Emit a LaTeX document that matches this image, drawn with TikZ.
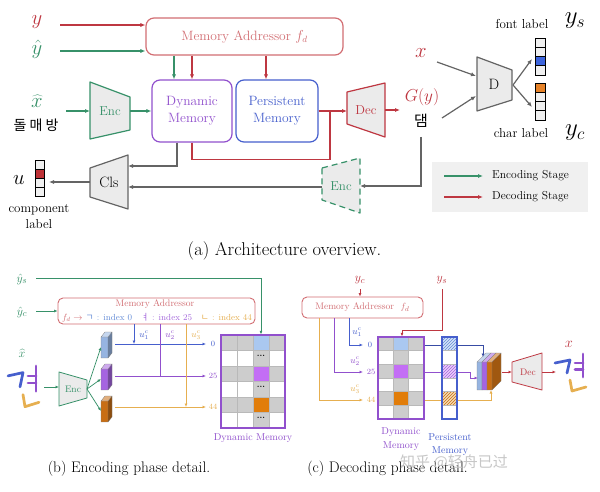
\documentclass[tikz,border=0pt]{standalone}
\usepackage{fontspec}
\newfontfamily\krfont{Noto Sans CJK KR}
\newfontfamily\scfont{Noto Sans CJK SC}
\usetikzlibrary{arrows.meta,patterns}
\definecolor{cgreen}{RGB}{55,145,105}
\definecolor{cred}{RGB}{190,55,65}
\definecolor{cpink}{RGB}{210,110,115}
\definecolor{cpurple}{RGB}{145,80,205}
\definecolor{cblue}{RGB}{70,95,205}
\definecolor{cgray}{RGB}{100,100,100}
\definecolor{cfill}{RGB}{235,235,235}
\definecolor{clblue}{RGB}{170,200,240}
\definecolor{cviolet}{RGB}{195,110,245}
\definecolor{corange}{RGB}{225,125,10}
\definecolor{cgold}{RGB}{230,175,80}
\definecolor{cgrid}{RGB}{205,205,205}
\definecolor{clb}{RGB}{100,140,215}
\definecolor{clp}{RGB}{165,105,220}
\definecolor{cbarblue}{RGB}{60,100,220}
\definecolor{cbarorange}{RGB}{230,130,40}
\definecolor{cbarred}{RGB}{190,50,55}
\definecolor{cubeblue}{RGB}{150,180,225}
\definecolor{cubepurple}{RGB}{165,100,225}
\definecolor{cubeorange}{RGB}{200,110,20}
\newcommand{\fsz}[1]{\fontsize{#1}{#1}\selectfont}
\newcommand{\featcube}[3]{%
 \fill[#3] (#1,#2) rectangle ({#1+7},{#2+21});
 \fill[#3!70!black] ({#1+7},#2) -- ({#1+11},{#2-5}) -- ({#1+11},{#2+16}) -- ({#1+7},{#2+21}) -- cycle;
 \fill[#3!55!white] (#1,#2) -- ({#1+4},{#2-5}) -- ({#1+11},{#2-5}) -- ({#1+7},#2) -- cycle;
 \draw[black!50,line width=0.3pt] (#1,#2) rectangle ({#1+7},{#2+21}) ({#1+7},#2) -- ({#1+11},{#2-5}) -- ({#1+11},{#2+16}) -- ({#1+7},{#2+21}) (#1,#2) -- ({#1+4},{#2-5}) -- ({#1+11},{#2-5});}
\newcommand{\featslab}[2]{%
 \fill[#2] (#1,362) rectangle ({#1+5},390);
 \fill[#2!55!white] (#1,362) -- ({#1+9},353) -- ({#1+14},353) -- ({#1+5},362) -- cycle;
 \fill[#2!80!black] ({#1+5},362) -- ({#1+14},353) -- ({#1+14},381) -- ({#1+5},390) -- cycle;
 \draw[black!50,line width=0.3pt] (#1,362) rectangle ({#1+5},390) (#1,362) -- ({#1+9},353) -- ({#1+14},353) -- ({#1+5},362) ({#1+14},353) -- ({#1+14},381) -- ({#1+5},390);}
\newcommand{\gyeon}[3]{%
 \begin{scope}[shift={(#1,#2)},yscale=#3,line width=2.7pt,line cap=round,line join=round]
 \draw[cblue] (0,9) -- (15,6) -- (12,19);
 \draw[cpurple] (28,0) -- (28,23) (20,9) -- (28,9) (20,15.5) -- (28,15.5);
 \draw[cgold] (15,26) -- (17,37) -- (31,33);
 \end{scope}}
\begin{document}
\begin{tikzpicture}[x=1pt,y=-1pt,
  arr/.style={-{Latex[length=5pt,width=4.2pt]}},
  sarr/.style={-{Latex[length=3.5pt,width=3pt]}},
  thickl/.style={line width=1.2pt},
  thinl/.style={line width=0.75pt},
  trap/.style={fill=cfill,line width=1.2pt,line join=round},
  mbox/.style={rounded corners=8pt,line width=1.2pt,align=center,inner sep=0pt},
  lbl/.style={inner sep=0pt},
  gl/.style={draw=gray!55,line width=0.4pt}]
\fill[white] (0,0) rectangle (600,492);
\useasboundingbox (0,0) rectangle (600,492);
% ================= (a) =================
\node[lbl,text=cred,font=\fsz{22}] (ya) at (37,22) {$y$};
\node[lbl,text=cgreen,font=\fsz{21}] (yha) at (37,49) {$\hat{y}$};
\node[mbox,draw=cpink,text=cpink,font=\fsz{13.5},minimum width=197pt,minimum height=37pt] (addrA) at (244.5,36.5) {Memory Addressor $f_d$};
\coordinate (yaS) at (60,25);
\coordinate (yhaS) at (60,51);
\draw[thickl,arr,cred] (yaS) -- (addrA.west |- yaS);
\draw[thickl,arr,cgreen] (yhaS) -- (addrA.west |- yhaS);
\node[mbox,draw=cpurple,text=cpurple,font=\fontsize{13.5}{17}\selectfont,minimum width=80pt,minimum height=62pt] (dynA) at (192,111) {Dynamic\\Memory};
\node[mbox,draw=cblue,text=cblue,font=\fontsize{13.5}{17}\selectfont,minimum width=82pt,minimum height=62pt] (perA) at (277,111) {Persistent\\Memory};
\coordinate (gx) at (174,0);
\coordinate (rx1) at (192,0);
\coordinate (rx2) at (266,0);
\coordinate (gy1) at (177,0);
\draw[thickl,arr,cgreen] (addrA.south -| gx) -- (dynA.north -| gx);
\draw[thickl,arr,cred] (addrA.south -| rx1) -- (dynA.north -| rx1);
\draw[thickl,arr,cred] (addrA.south -| rx2) -- (perA.north -| rx2);
% Enc
\draw[trap,draw=cgreen] (90,82) -- (130,97) -- (130,130) -- (90,139) -- cycle;
\node[lbl,text=cgreen,font=\fsz{13}] (encA) at (110,111) {Enc};
\coordinate (encAw) at (90,111);
\coordinate (encAe) at (130,111);
\node[lbl,text=cgreen,font=\fsz{21}] (xhA) at (37,101) {$\widehat{x}$};
\node[lbl,font=\krfont\fsz{14}] (dmb) at (36,125) {돌 매 방};
\coordinate (xhAs) at (66,111);
\draw[thickl,arr,cgreen] (xhAs) -- (encAw);
\draw[thickl,arr,cgreen] (encAe) -- (dynA.west |- encAe);
% Dec
\draw[trap,draw=cred] (347,92) -- (385,83) -- (385,137) -- (347,124) -- cycle;
\node[lbl,text=cred,font=\fsz{13}] (decA) at (366,110) {Dec};
\coordinate (decAw) at (347,111);
\coordinate (decAe) at (385,110);
\coordinate (rj) at (330,111);
\draw[thickl,arr,cred] (perA.east) -- (decAw);
\draw[thickl,cred] (dynA.south -| rx1) -- ++(0,17) -| (rj);
% Cls
\draw[trap,draw=cgray] (90,168) -- (128,155) -- (128,209) -- (90,197) -- cycle;
\node[lbl,font=\fsz{15}] (clsA) at (109,182) {Cls};
\coordinate (clsAe1) at (128,166);
\coordinate (clsAe2) at (128,187);
\coordinate (clsAw) at (90,182);
\draw[thickl,arr,cgray] (dynA.south -| gy1) |- (clsAe1);
% u bar
\foreach \k in {0,...,3} \draw[fill=black!6,line width=0.6pt] (35,{160+9*\k}) rectangle (44,{169+9*\k});
\draw[fill=cbarred,line width=0.6pt] (35,169) rectangle (44,178);
\coordinate (uarr) at (49,182);
\draw[thickl,arr,cgray] (clsAw) -- (uarr);
\node[lbl,font=\fsz{22}] (uA) at (19,180) {$u$};
\node[lbl,font=\fsz{13}] (compl) at (39,210) {component};
\node[lbl,font=\fsz{13}] (compl2) at (39,224) {label};
% Enc dashed
\draw[trap,draw=cgreen,dash pattern=on 6pt off 4pt] (322,168) -- (360,158) -- (360,213) -- (322,200) -- cycle;
\node[lbl,text=cgreen,font=\fsz{13}] (encD) at (341,186) {Enc};
\coordinate (encDe) at (360,186);
\coordinate (encDw) at (322,187);
\draw[thickl,arr,cgray] (encDw) -- (clsAe2);
% G(y)
\node[lbl,text=cred,font=\fsz{19}] (gyA) at (422,97) {$G(y)$};
\node[lbl,font=\krfont\fsz{15}] (dam) at (421,121) {댐};
\coordinate (gyW) at (400,110);
\draw[thickl,arr,cred] (decAe) -- (gyW);
\coordinate (damS) at (421,137);
\draw[thickl,arr,cgray] (damS) |- (encDe);
% D
\node[lbl,text=cred,font=\fsz{22}] (xA) at (421,53) {$x$};
\draw[trap,draw=cgray] (477,57) -- (512,70) -- (512,100) -- (477,111) -- cycle;
\node[lbl,font=\fsz{15}] (dA) at (494,84) {D};
\coordinate (xAr) at (437,62);
\coordinate (dIn1) at (476,76);
\coordinate (damR) at (442,118);
\coordinate (dIn2) at (476,96);
\coordinate (dOut) at (513,85);
\coordinate (fontIn) at (532,59);
\coordinate (charIn) at (532,107);
\draw[thickl,arr,cgray] (xAr) -- (dIn1);
\draw[thickl,arr,cgray] (damR) -- (dIn2);
\draw[thickl,arr,cgray] (dOut) -- (fontIn);
\draw[thickl,arr,cgray] (dOut) -- (charIn);
\foreach \k in {0,...,3} \draw[fill=black!6,line width=0.6pt] (535,{38+9.25*\k}) rectangle (545,{47.25+9.25*\k});
\draw[fill=cbarblue,line width=0.6pt] (535,56.5) rectangle (545,65.75);
\foreach \k in {0,...,3} \draw[fill=black!6,line width=0.6pt] (535,{83+9.25*\k}) rectangle (545,{92.25+9.25*\k});
\draw[fill=cbarorange,line width=0.6pt] (535,83) rectangle (545,92.25);
\node[lbl,font=\fsz{13}] (fontl) at (522,24) {font label};
\node[lbl,font=\fsz{23}] (ysA) at (575,21) {$y_s$};
\node[lbl,font=\fsz{13}] (charl) at (521,133) {char label};
\node[lbl,font=\fsz{23}] (ycA) at (575,133) {$y_c$};
% legend
\fill[black!6] (432,162) rectangle (588,212);
\coordinate (lg1) at (444,176);
\coordinate (lg2) at (483,176);
\coordinate (lr1) at (444,197);
\coordinate (lr2) at (483,197);
\draw[thickl,arr,cgreen] (lg1) -- (lg2);
\draw[thickl,arr,cred] (lr1) -- (lr2);
\node[lbl,anchor=west,font=\fsz{11.5}] (lgt) at (492,176) {Encoding Stage};
\node[lbl,anchor=west,font=\fsz{11.5}] (lrt) at (492,197) {Decoding Stage};
\node[lbl,font=\fsz{18.5}] (capA) at (284.5,251) {(a) Architecture overview.};
% ================= (b) =================
\node[lbl,text=cgreen,font=\fsz{13}] (ysB) at (22,279) {$\hat{y}_s$};
\node[lbl,text=cgreen,font=\fsz{13}] (ycB) at (22,312) {$\hat{y}_c$};
\node[draw=cpink,rounded corners=5pt,line width=0.9pt,minimum width=197pt,minimum height=26pt,inner sep=0pt] (addrB) at (156.5,311) {};
\node[lbl,text=cpink,font=\fsz{9.5}] (addrBt) at (155,304.5) {Memory Addressor};
\node[lbl,font=\fsz{8.8}] (addrBl) at (157,318) {\textcolor{cpink}{$f_d\rightarrow$} \textcolor{clb}{{\krfont ㄱ} : index 0}\quad\textcolor{clp}{{\krfont ㅕ} : index 25}\quad\textcolor{cgold}{{\krfont ㄴ} : index 44}};
% grid B
\fill[white] (221,335) rectangle (285,428);
\foreach \r in {0,2,4} \fill[cgrid] (221,{335+15.5*\r}) rectangle (285,{350.5+15.5*\r});
\fill[cgrid] (253,335) rectangle (269,428);
\fill[clblue] (253,335) rectangle (269,350.5);
\fill[cviolet] (253,366) rectangle (269,381.5);
\fill[corange] (253,397) rectangle (269,412.5);
\foreach \i in {1,2,3} \draw[gl] ({221+16*\i},335) -- ({221+16*\i},428);
\foreach \j in {1,...,5} \draw[gl] (221,{335+15.5*\j}) -- (285,{335+15.5*\j});
\foreach \r in {1,3,5} \node[lbl,font=\bfseries\fsz{8}] (dotB\r) at (261,{340+15.5*\r}) {...};
\node[draw=cpurple,line width=1.3pt,minimum width=64pt,minimum height=93pt,inner sep=0pt] (gridB) at (253,381.5) {};
\node[lbl,text=cpurple,font=\fsz{10}] (gridBl) at (253,438) {Dynamic Memory};
\coordinate (ysBs) at (36,278);
\coordinate (ysBx) at (261,278);
\draw[thinl,sarr,cgreen] (ysBs) -- (ysBx) -- (gridB.north -| ysBx);
\coordinate (ycBs) at (36,311);
\draw[thinl,sarr,cgreen] (ycBs) -- (addrB.west |- ycBs);
% enc B
\node[lbl,text=cgreen,font=\fsz{13}] (xhB) at (22,353) {$\widehat{x}$};
\gyeon{8}{366}{1.1}
\draw[trap,draw=cgreen,line width=0.8pt] (59,372) -- (87,380) -- (87,398) -- (59,406) -- cycle;
\node[lbl,text=cgreen,font=\fsz{9.5}] (encB) at (73,389) {Enc};
\coordinate (encBin) at (44,387);
\coordinate (encBw) at (59,387);
\coordinate (encBe) at (87,389);
\draw[thinl,sarr,cgreen] (encBin) -- (encBw);
\featcube{101}{337}{cubeblue}
\featcube{101}{369}{cubepurple}
\featcube{101}{401}{cubeorange}
\coordinate (cb1) at (101,347);
\coordinate (cb2) at (101,379);
\coordinate (cb3) at (101,411);
\draw[thinl,sarr,cgreen] (encBe) -- (cb1);
\draw[thinl,sarr,cgreen] (encBe) -- (cb2);
\draw[thinl,sarr,cgreen] (encBe) -- (cb3);
% routing B
\coordinate (hb1) at (115,344); \coordinate (he1) at (206,344);
\coordinate (hb2) at (115,376); \coordinate (he2) at (206,376);
\coordinate (hb3) at (115,407); \coordinate (he3) at (206,407);
\draw[thinl,sarr,cblue] (hb1) -- (he1);
\draw[thinl,sarr,cpurple] (hb2) -- (he2);
\draw[thinl,sarr,cgold] (hb3) -- (he3);
\coordinate (vb1) at (134,344);
\coordinate (vb2) at (160,376);
\coordinate (vb3) at (186,407);
\draw[thinl,sarr,cblue] (addrB.south -| vb1) -- (vb1);
\draw[thinl,cpurple] (addrB.south -| vb2) -- (vb2);
\draw[thinl,sarr,cgold] (addrB.south -| vb3) -- (vb3);
\node[lbl,text=cblue,font=\fsz{9}] (u1B) at (144,335) {$u_1^c$};
\node[lbl,text=cpurple,font=\fsz{9}] (u2B) at (170,335) {$u_2^c$};
\node[lbl,text=cgold,font=\fsz{9}] (u3B) at (196,335) {$u_3^c$};
\node[lbl,text=cblue,font=\fsz{8}] (n0B) at (213,344) {0};
\node[lbl,text=cpurple,font=\fsz{8}] (n25B) at (213,376) {25};
\node[lbl,text=cgold,font=\fsz{8}] (n44B) at (213,407) {44};
\node[lbl,font=\fsz{15.3}] (capB) at (129,469) {(b) Encoding phase detail.};
% ================= (c) =================
\node[lbl,text=cred,font=\fsz{13}] (ycC) at (360,280) {$y_c$};
\node[lbl,text=cred,font=\fsz{13}] (ysC) at (442,280) {$y_s$};
\node[draw=cpink,rounded corners=5pt,line width=0.9pt,minimum width=121pt,minimum height=21pt,inner sep=0pt,text=cpink,font=\fsz{9.5}] (addrC) at (362.5,307.5) {Memory Addressor \ $f_d$};
\coordinate (ycCs) at (360,289);
\draw[thinl,sarr,cred] (ycCs) -- (addrC.north -| ycCs);
% grid C
\fill[white] (378,337) rectangle (424,419);
\foreach \r in {0,2,4} \fill[cgrid] (378,{337+13.667*\r}) rectangle (424,{350.667+13.667*\r});
\fill[cgrid] (393.33,337) rectangle (408.67,419);
\fill[clblue] (393.33,337) rectangle (408.67,350.67);
\fill[cviolet] (393.33,364.33) rectangle (408.67,378);
\fill[corange] (393.33,391.67) rectangle (408.67,405.33);
\foreach \i in {1,2} \draw[gl] ({378+15.333*\i},337) -- ({378+15.333*\i},419);
\foreach \j in {1,...,5} \draw[gl] (378,{337+13.667*\j}) -- (424,{337+13.667*\j});
\node[draw=cpurple,line width=1.3pt,minimum width=46pt,minimum height=82pt,inner sep=0pt] (gridC) at (401,378) {};
\node[lbl,text=cpurple,font=\fsz{10}] (gridCl1) at (401,432) {Dynamic};
\node[lbl,text=cpurple,font=\fsz{10}] (gridCl2) at (401,446) {Memory};
% persistent C
\fill[white] (442,337) rectangle (457,419);
\fill[clblue!50] (442,337) rectangle (457,350.67);
\fill[pattern=north east lines,pattern color=clb] (442,337) rectangle (457,350.67);
\fill[cviolet!35] (442,364.33) rectangle (457,378);
\fill[pattern=north east lines,pattern color=clp] (442,364.33) rectangle (457,378);
\fill[cgold!45] (442,391.67) rectangle (457,405.33);
\fill[pattern=north east lines,pattern color=cubeorange] (442,391.67) rectangle (457,405.33);
\foreach \j in {1,...,5} \draw[gl] (442,{337+13.667*\j}) -- (457,{337+13.667*\j});
\node[draw=cblue,line width=1.3pt,minimum width=15pt,minimum height=82pt,inner sep=0pt] (perC) at (449.5,378) {};
\node[lbl,text=cblue,font=\fsz{10}] (perCl1) at (450,437) {Persistent};
\node[lbl,text=cblue,font=\fsz{10}] (perCl2) at (450,451) {Memory};
% y_s into grid
\coordinate (ysCs) at (442,289);
\coordinate (ysCc) at (442,330);
\coordinate (ysCx) at (402,330);
\draw[thinl,sarr,cred] (ysCs) -- (ysCc) -- (ysCx) -- (gridC.north -| ysCx);
% addressor C routes
\coordinate (rc1) at (349,0); \coordinate (rce1) at (363,345);
\coordinate (rc2) at (334,0); \coordinate (rce2) at (363,372);
\coordinate (rc3) at (319,0); \coordinate (rce3) at (363,400);
\draw[thinl,sarr,cblue] (addrC.south -| rc1) |- (rce1);
\draw[thinl,sarr,cpurple] (addrC.south -| rc2) |- (rce2);
\draw[thinl,sarr,cgold] (addrC.south -| rc3) |- (rce3);
\node[lbl,text=cblue,font=\fsz{9}] (u1C) at (357,332) {$u_1^c$};
\node[lbl,text=cpurple,font=\fsz{9}] (u2C) at (355,361) {$u_2^c$};
\node[lbl,text=cgold,font=\fsz{9}] (u3C) at (355,389) {$u_3^c$};
\node[lbl,text=cblue,font=\fsz{8}] (n0C) at (370,345) {0};
\node[lbl,text=cpurple,font=\fsz{8}] (n25C) at (371,372) {25};
\node[lbl,text=cgold,font=\fsz{8}] (n44C) at (371,400) {44};
% grid to persistent
\coordinate (gp1) at (0,345); \coordinate (gp2) at (0,372); \coordinate (gp3) at (0,400);
\draw[thinl,cblue!80!black] (gridC.east |- gp1) -- (perC.west |- gp1);
\draw[thinl,cpurple] (gridC.east |- gp2) -- (perC.west |- gp2);
\draw[thinl,cgold] (gridC.east |- gp3) -- (perC.west |- gp3);
% stack
\featslab{477}{cubeblue}
\featslab{482}{cubepurple}
\featslab{487}{cubeorange}
\coordinate (st1) at (483,357);
\coordinate (st2a) at (470,372);
\coordinate (st2b) at (470,378);
\coordinate (st2) at (478,378);
\coordinate (st3) at (491,390);
\draw[thinl,sarr,cblue!80!black] (perC.east |- gp1) -| (st1);
\draw[thinl,sarr,cpurple] (perC.east |- gp2) -- (st2a) -- (st2b) -- (st2);
\draw[thinl,sarr,cgold] (perC.east |- gp3) -| (st3);
% Dec C
\draw[trap,draw=cred,line width=0.8pt] (512,362) -- (542,353) -- (542,390) -- (512,382) -- cycle;
\node[lbl,text=cred,font=\fsz{9.5}] (decC) at (528,372) {Dec};
\coordinate (stE) at (502,372);
\coordinate (decCw) at (512,372);
\coordinate (decCe) at (542,372);
\coordinate (outC) at (556,372);
\draw[thinl,sarr,cred] (stE) -- (decCw);
\draw[thinl,sarr,cred] (decCe) -- (outC);
\node[lbl,text=cred,font=\fsz{14}] (xC) at (569,344) {$x$};
\gyeon{555}{354}{1.0}
\node[lbl,font=\fsz{15.3}] (capC) at (387.5,469) {(c) Decoding phase detail.};
\node[lbl,text=black!22,font=\scfont\fsz{15}] (wm) at (454,462) {知乎 @轻舟已过};
\end{tikzpicture}
\end{document}
